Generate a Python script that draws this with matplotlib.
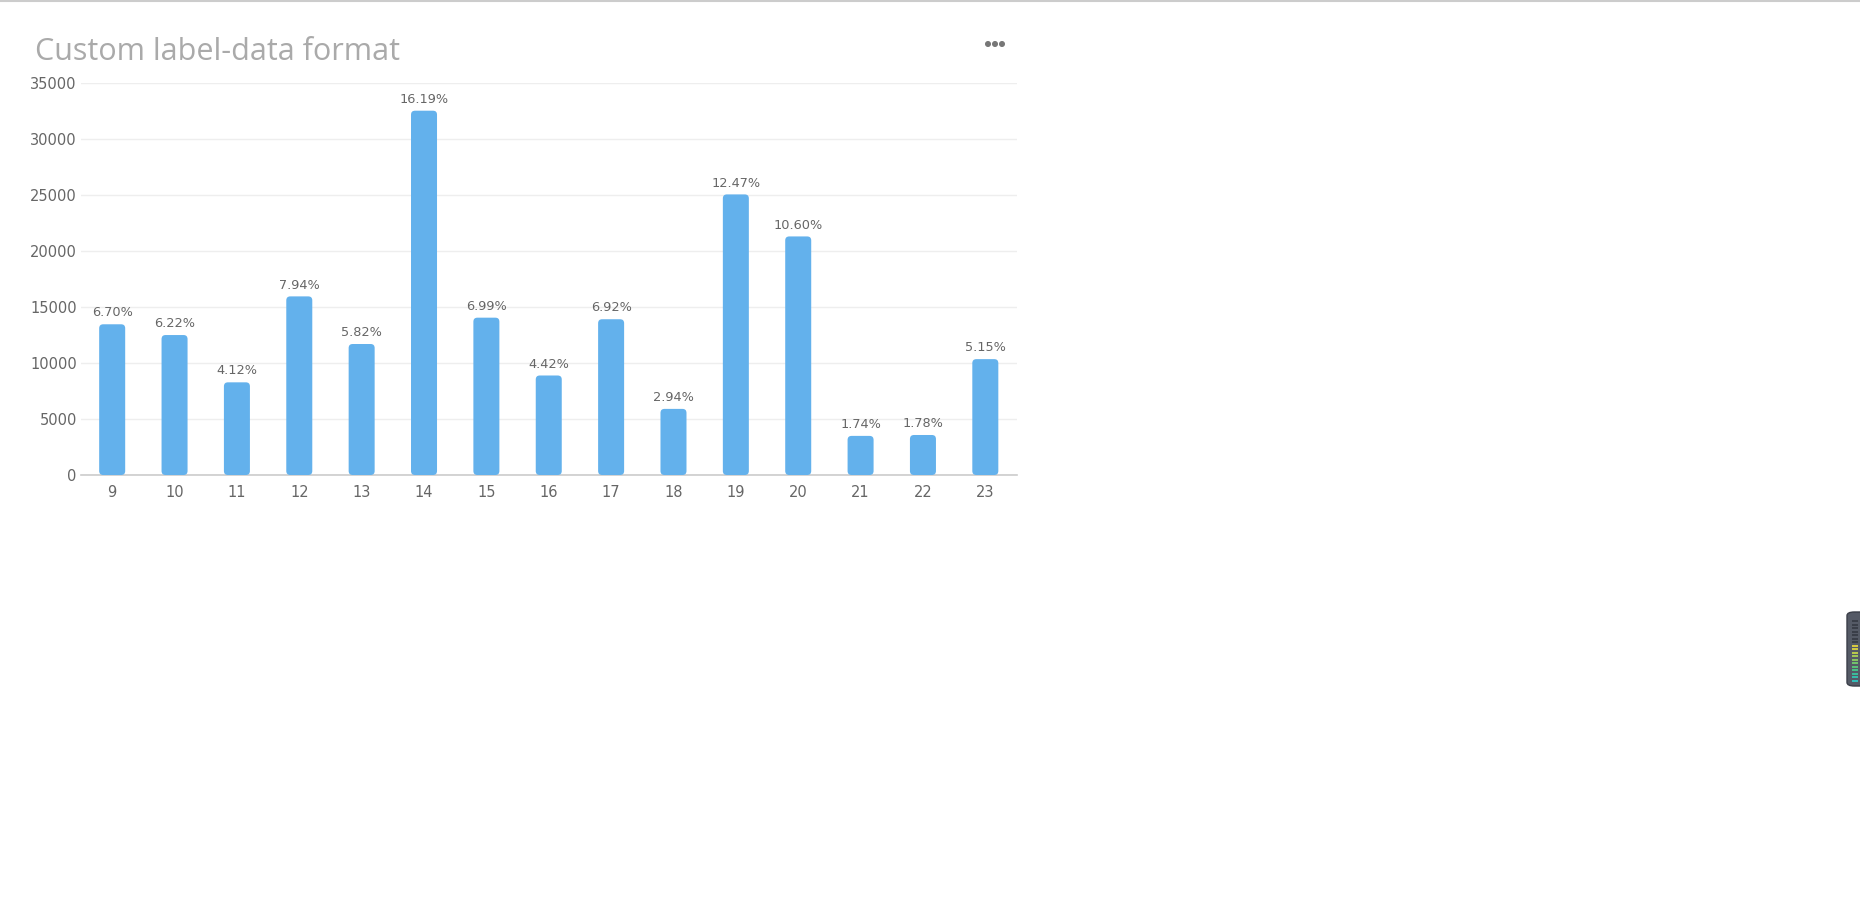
import matplotlib
matplotlib.use("Agg")
import matplotlib.pyplot as plt
from matplotlib.patches import FancyBboxPatch, Rectangle, Ellipse
import numpy as np

# ---- data ----
hours = ["9", "10", "11", "12", "13", "14", "15", "16", "17", "18", "19", "20", "21", "22", "23"]
values = [13450, 12490, 8270, 15940, 11690, 32510, 14040, 8880, 13900, 5900, 25040, 21290, 3490, 3570, 10340]
y_ticks = [0, 5000, 10000, 15000, 20000, 25000, 30000, 35000]
title = "Custom label-data format"

plt.rcParams["font.family"] = ["DejaVu Sans"]

W, H = 1860, 902
fig = plt.figure(figsize=(W / 100, H / 100), dpi=100)
fig.patch.set_facecolor("white")

def fx(px):
    return px / W

def fy(py):
    return 1 - py / H

left, right, top, bottom = 81, 1016.5, 82.8, 475.0
ax = fig.add_axes([fx(left), fy(bottom), fx(right - left), (bottom - top) / H])
ax.set_xlim(-0.5, len(hours) - 0.5)
ax.set_ylim(0, 35000)

for s in ["top", "right", "left"]:
    ax.spines[s].set_visible(False)
ax.spines["bottom"].set_color("#cccccc")
ax.spines["bottom"].set_linewidth(1.2)

ax.set_yticks(y_ticks)
ax.set_yticklabels([str(t) for t in y_ticks])
ax.set_xticks(range(len(hours)))
ax.set_xticklabels(hours)
ax.tick_params(axis="both", length=0, labelsize=10.5, labelcolor="#666666")
ax.tick_params(axis="y", pad=3)
ax.tick_params(axis="x", pad=7)
ax.grid(axis="y", color="#eeeeee", linewidth=1)
ax.set_axisbelow(True)

# rounded bars
bar_w = 0.417
px_per_x = (right - left) / len(hours)
px_per_y = (bottom - top) / 35000
r_px = 4.0
r_x = r_px / px_per_x
aspect = (r_px / px_per_y) / r_x
total = sum(values)
bar_color = "#63b1ec"
for i, v in enumerate(values):
    p = FancyBboxPatch((i - bar_w / 2, 0), bar_w, v,
                       boxstyle=f"round,pad=0,rounding_size={r_x}",
                       mutation_aspect=aspect,
                       facecolor=bar_color, edgecolor="none", zorder=3)
    ax.add_patch(p)
    ax.annotate(f"{v / total * 100:.2f}%", (i, v), xytext=(0, 3.5),
                textcoords="offset points", ha="center", va="bottom",
                fontsize=9.3, color="#666666", zorder=4)

# title
fig.text(fx(35), fy(51.5), title, fontsize=22, color="#aaaaaa",
         family="Open Sans", ha="left", va="center")

# "..." menu icon
for dx in (-7, 0, 7):
    fig.add_artist(Ellipse((fx(995 + dx), fy(44)), 4.6 / W, 4.6 / H,
                           transform=fig.transFigure, color="#777777"))

# top border line
fig.add_artist(plt.Line2D([0, 1], [fy(0.8), fy(0.8)], color="#cccccc",
                          linewidth=1.5, transform=fig.transFigure))

# right-edge widget
fig.add_artist(FancyBboxPatch((fx(1847), fy(686)), fx(20), (686 - 612) / H,
                              boxstyle="round,pad=0,rounding_size=0.004",
                              transform=fig.transFigure,
                              facecolor="#555a66", edgecolor="#3a3e48", linewidth=1))
stripe_cols = ["#3a3e48"] * 7 + ["#d8c840", "#cfc844", "#b8c84c", "#a0c656",
                                  "#88c460", "#70c26c", "#5ac078", "#48be88",
                                  "#3cbc98", "#34bcaa", "#30bcb8"]
for k, c in enumerate(stripe_cols):
    y0 = 620 + k * 3.5
    fig.add_artist(Rectangle((fx(1852), fy(y0 + 2)), fx(6), 2 / H,
                             transform=fig.transFigure, facecolor=c,
                             edgecolor="none"))

fig.savefig("out.png", dpi=100, facecolor="white")
